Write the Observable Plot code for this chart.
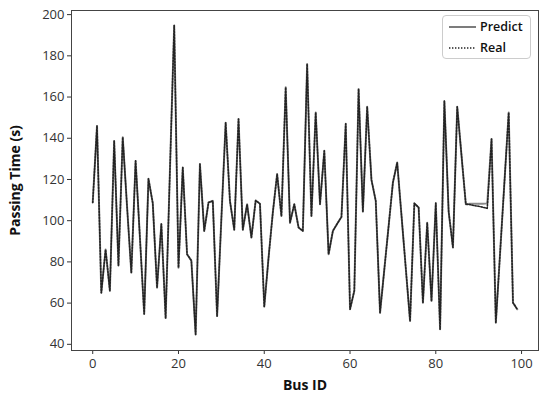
<!DOCTYPE html>
<html>
<head>
<meta charset="utf-8">
<script src="https://cdn.jsdelivr.net/npm/d3@7"></script>
<script src="https://cdn.jsdelivr.net/npm/@observablehq/plot@0.6"></script>
<style>
  html, body { margin: 0; padding: 0; background: #fff; }
  #wrap { position: relative; width: 550px; height: 405px; font-family: "Open Sans", sans-serif; }
  #wrap svg g[aria-label="x-axis label"] text,
  #wrap svg g[aria-label="y-axis label"] text { font-weight: bold; font-size: 14px; fill: #111; }
  #legend { position: absolute; left: 442px; top: 15px; width: 89px; height: 44px; box-sizing: border-box;
    border: 1px solid #ccc; border-radius: 4px; background: #fff; font-size: 12.5px; font-weight: 600; color: #111; }
  #legend .row { position: absolute; left: 6px; display: flex; align-items: center; }
  #legend svg { margin-right: 3px; }
</style>
</head>
<body>
<div id="wrap"></div>
<script>
const busId = d3.range(0, 100);
const realValues = [
  108.8, 146, 65, 86, 66, 138.7, 78.3, 140.5, 107, 74.8,
  129, 92, 54.7, 120.3, 108.5, 67.5, 98.4, 52.8, 124, 194.7,
  77.2, 125.8, 83.7, 80.6, 44.8, 127.5, 95, 108.8, 109.6, 53.7,
  101, 147.5, 109.6, 95.6, 149.3, 95.6, 108, 91.8, 109.8, 108.2,
  58.3, 82, 104, 122.6, 102.3, 164.7, 99, 108, 96.7, 95,
  176, 102.3, 152.5, 108, 133.9, 83.7, 95, 98.5, 101.8, 147,
  57, 66, 163.9, 104.4, 155.3, 119.8, 109.6, 55.3, 76.4, 97.4,
  118.5, 128.2, 102.6, 77, 51.3, 108.4, 106.4, 60.2, 99, 61,
  108.5, 47.3, 158, 104.4, 87, 155.3, 131.6, 108, 107.8, 107.3,
  107, 106.5, 106, 139.6, 50.5, 84.5, 118.5, 152.5, 60.2, 57
];
const predictValues = [
  108.8, 146, 65, 86, 66, 138.7, 78.3, 140.5, 107, 74.8,
  129, 92, 54.7, 120.3, 108.5, 67.5, 98.4, 52.8, 124, 194.7,
  77.2, 125.8, 83.7, 80.6, 44.8, 127.5, 95, 108.8, 109.6, 53.7,
  101, 147.5, 109.6, 95.6, 149.3, 95.6, 108, 91.8, 109.8, 108.2,
  58.3, 82, 104, 122.6, 102.3, 164.7, 99, 108, 96.7, 95,
  176, 102.3, 152.5, 108, 133.9, 83.7, 95, 98.5, 101.8, 147,
  57, 66, 163.9, 104.4, 155.3, 119.8, 109.6, 55.3, 76.4, 97.4,
  118.5, 128.2, 102.6, 77, 51.3, 108.4, 106.4, 60.2, 99, 61,
  108.5, 47.3, 158, 104.4, 87, 155.3, 131.6, 108, 108.2, 108.2,
  108.2, 108.2, 108.4, 139.6, 50.5, 84.5, 118.5, 152.5, 60.2, 57
];
const xTicks = [0, 20, 40, 60, 80, 100];
const yTicks = [40, 60, 80, 100, 120, 140, 160, 180, 200];

const predict = busId.map((id, i) => ({id, v: predictValues[i]}));
const real = busId.map((id, i) => ({id, v: realValues[i]}));

const chart = Plot.plot({
  width: 550,
  height: 405,
  marginLeft: 71,
  marginRight: 12,
  marginTop: 10,
  marginBottom: 55,
  style: {fontFamily: "Open Sans, sans-serif", fontSize: "13px", color: "#333", background: "#fff"},
  x: {domain: [-4.95, 103.95], ticks: xTicks, tickSize: 4, label: "Bus ID", labelAnchor: "center", labelArrow: "none", labelOffset: 39, tickPadding: 4},
  y: {domain: [37, 202], ticks: yTicks, tickSize: 4, label: "Passing Time (s)", labelAnchor: "center", labelArrow: "none", labelOffset: 61, tickPadding: 3},
  marks: [
    Plot.line(predict, {x: "id", y: "v", stroke: "#8a8a8a", strokeWidth: 2}),
    Plot.line(real, {x: "id", y: "v", stroke: "#222", strokeWidth: 1.6, strokeDasharray: "1.5,1.5"}),
    Plot.frame({stroke: "#444", strokeWidth: 1})
  ]
});
const wrap = document.getElementById("wrap");
wrap.appendChild(chart);

const legend = document.createElement("div");
legend.id = "legend";
legend.innerHTML = `
  <div class="row" style="top:2px"><svg width="28" height="14"><line x1="0" y1="7" x2="27" y2="7" stroke="#444" stroke-width="1.4"/></svg>Predict</div>
  <div class="row" style="top:23px"><svg width="28" height="14"><line x1="0" y1="7" x2="27" y2="7" stroke="#222" stroke-width="1.4" stroke-dasharray="1.4,1.6"/></svg>Real</div>`;
wrap.appendChild(legend);
</script>
</body>
</html>
